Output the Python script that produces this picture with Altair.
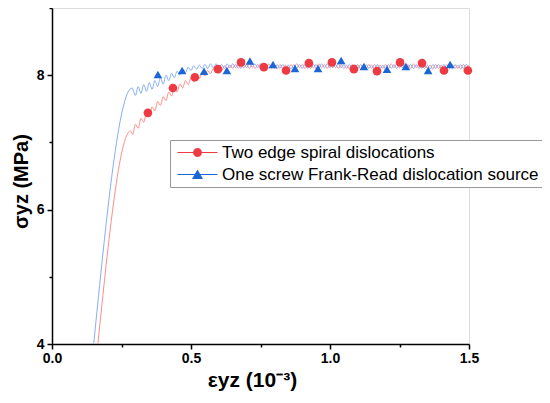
import altair as alt
import pandas as pd

S1 = "Two edge spiral dislocations"
S2 = "One screw Frank-Read dislocation source"

red_x = [0.165, 0.283, 0.29, 0.30, 0.31, 0.32, 0.33, 0.34, 0.35, 0.36, 0.37, 0.38, 0.39,
         0.40, 0.41, 0.42, 0.43, 0.44, 0.45, 0.46, 0.47, 0.48, 0.49, 0.50, 0.51, 0.52, 0.53,
         0.54, 0.55, 0.56, 0.57, 0.58, 0.59, 0.60, 0.61, 0.62, 0.63, 0.64, 0.65, 0.66, 0.67,
         0.68, 0.69, 0.70, 0.71, 0.72, 0.73, 0.74, 0.75, 0.76, 0.77, 0.78, 0.79, 0.80, 0.81,
         0.82, 0.83, 0.84, 0.85, 0.86, 0.87, 0.88, 0.89, 0.90, 0.91, 0.92, 0.93, 0.94, 0.95,
         0.96, 0.97, 0.98, 0.99, 1.00, 1.01, 1.02, 1.03, 1.04, 1.05, 1.06, 1.07, 1.08, 1.09,
         1.10, 1.11, 1.12, 1.13, 1.14, 1.15, 1.16, 1.17, 1.18, 1.19, 1.20, 1.21, 1.22, 1.23,
         1.24, 1.25, 1.26, 1.27, 1.28, 1.29, 1.30, 1.31, 1.32, 1.33, 1.34, 1.35, 1.36, 1.37,
         1.38, 1.39, 1.40, 1.41, 1.42, 1.43, 1.44, 1.45, 1.46, 1.47, 1.48, 1.49, 1.50]
red_y = [4.00, 7.17, 7.12, 7.27, 7.21, 7.36, 7.30, 7.45, 7.39, 7.53, 7.47, 7.61, 7.55,
         7.68, 7.62, 7.75, 7.69, 7.82, 7.75, 7.87, 7.81, 7.92, 7.86, 7.96, 7.90, 8.00, 7.95,
         8.04, 7.99, 8.07, 8.02, 8.10, 8.05, 8.12, 8.07, 8.14, 8.09, 8.15, 8.10, 8.16, 8.10,
         8.17, 8.11, 8.16, 8.10, 8.17, 8.10, 8.16, 8.11, 8.16, 8.10, 8.17, 8.10, 8.16, 8.09,
         8.16, 8.10, 8.15, 8.10, 8.16, 8.10, 8.17, 8.11, 8.16, 8.10, 8.17, 8.10, 8.16, 8.10,
         8.17, 8.11, 8.16, 8.10, 8.17, 8.11, 8.16, 8.10, 8.16, 8.10, 8.15, 8.09, 8.16, 8.10,
         8.16, 8.09, 8.15, 8.10, 8.16, 8.10, 8.16, 8.09, 8.15, 8.10, 8.16, 8.10, 8.17, 8.11,
         8.17, 8.11, 8.16, 8.10, 8.16, 8.10, 8.17, 8.11, 8.16, 8.10, 8.16, 8.10, 8.15, 8.09,
         8.16, 8.10, 8.15, 8.09, 8.16, 8.10, 8.16, 8.10, 8.15, 8.09, 8.16, 8.10, 8.15]

blue_x = [0.150, 0.288, 0.30, 0.31, 0.32, 0.33, 0.34, 0.35, 0.36, 0.37, 0.38, 0.39,
          0.40, 0.41, 0.42, 0.43, 0.44, 0.45, 0.46, 0.47, 0.48, 0.49, 0.50, 0.51, 0.52, 0.53,
          0.54, 0.55, 0.56, 0.57, 0.58, 0.59, 0.60, 0.61, 0.62, 0.63, 0.64, 0.65, 0.66, 0.67,
          0.68, 0.69, 0.70, 0.71, 0.72, 0.73, 0.74, 0.75, 0.76, 0.77, 0.78, 0.79, 0.80, 0.81,
          0.82, 0.83, 0.84, 0.85, 0.86, 0.87, 0.88, 0.89, 0.90, 0.91, 0.92, 0.93, 0.94, 0.95,
          0.96, 0.97, 0.98, 0.99, 1.00, 1.01, 1.02, 1.03, 1.04, 1.05, 1.06, 1.07, 1.08, 1.09,
          1.10, 1.11, 1.12, 1.13, 1.14, 1.15, 1.16, 1.17, 1.18, 1.19, 1.20, 1.21, 1.22, 1.23,
          1.24, 1.25, 1.26, 1.27, 1.28, 1.29, 1.30, 1.31, 1.32, 1.33, 1.34, 1.35, 1.36, 1.37,
          1.38, 1.39, 1.40, 1.41, 1.42, 1.43, 1.44, 1.45, 1.46, 1.47, 1.48, 1.49, 1.50]
blue_y = [4.00, 7.81, 7.70, 7.83, 7.73, 7.86, 7.76, 7.89, 7.79, 7.92, 7.83, 7.96,
          7.87, 8.00, 7.92, 8.03, 7.96, 8.06, 8.00, 8.09, 8.04, 8.12, 8.07, 8.14, 8.09, 8.15,
          8.10, 8.16, 8.10, 8.17, 8.11, 8.17, 8.11, 8.16, 8.10, 8.17, 8.11, 8.17, 8.11, 8.16,
          8.10, 8.17, 8.11, 8.18, 8.12, 8.17, 8.11, 8.17, 8.11, 8.16, 8.10, 8.16, 8.10, 8.16,
          8.10, 8.16, 8.10, 8.15, 8.09, 8.16, 8.10, 8.16, 8.10, 8.16, 8.10, 8.17, 8.11, 8.16,
          8.10, 8.17, 8.11, 8.17, 8.11, 8.17, 8.11, 8.17, 8.11, 8.16, 8.10, 8.16, 8.10, 8.16,
          8.10, 8.16, 8.10, 8.16, 8.10, 8.15, 8.09, 8.16, 8.10, 8.15, 8.09, 8.16, 8.10, 8.16,
          8.10, 8.17, 8.11, 8.17, 8.11, 8.16, 8.10, 8.16, 8.10, 8.16, 8.10, 8.15, 8.09, 8.16,
          8.10, 8.16, 8.10, 8.16, 8.10, 8.16, 8.10, 8.16, 8.10, 8.16, 8.10, 8.16, 8.10]

red_mx = [0.345, 0.435, 0.514, 0.597, 0.680, 0.762, 0.842, 0.924, 1.007, 1.086, 1.169,
          1.252, 1.331, 1.410, 1.496]
red_my = [7.44, 7.81, 7.97, 8.09, 8.19, 8.12, 8.07, 8.18, 8.19, 8.09, 8.06, 8.19, 8.18,
          8.07, 8.07]
blue_mx = [0.381, 0.468, 0.547, 0.629, 0.712, 0.795, 0.874, 0.957, 1.040, 1.122, 1.205,
           1.273, 1.353, 1.432]
blue_my = [8.01, 8.07, 8.06, 8.07, 8.21, 8.16, 8.10, 8.10, 8.22, 8.13, 8.09, 8.13, 8.07,
           8.16]

series = [S1, S2]
line_colors = ["#ff8c8c", "#86aef5"]
mark_colors = ["#ee3a43", "#1a66d6"]
x_ticks = [0, 0.25, 0.5, 0.75, 1.0, 1.25, 1.5]
y_ticks = [4, 5, 6, 7, 8, 9]

lines = pd.concat([
    pd.DataFrame({"x": red_x, "y": red_y, "s": S1}),
    pd.DataFrame({"x": blue_x, "y": blue_y, "s": S2}),
])
marks = pd.concat([
    pd.DataFrame({"x": red_mx, "y": red_my, "s": S1}),
    pd.DataFrame({"x": blue_mx, "y": blue_my, "s": S2}),
])

FONT = "Liberation Sans"
xenc = alt.X("x:Q", scale=alt.Scale(domain=[0, 1.5], nice=False),
             axis=alt.Axis(values=x_ticks, title="εyz (10⁻³)",
                           labelExpr="datum.value % 0.5 === 0 ? format(datum.value, '.1f') : ''",
                           tickSize={"condition": {"test": "datum.value % 0.5 === 0", "value": 5}, "value": 3},
                           grid=False, domainColor="black", domainWidth=1.5,
                           tickColor="black", tickWidth=1.5,
                           labelFont=FONT, labelFontSize=14, labelFontWeight="bold", labelColor="black",
                           labelPadding=2, labelFlush=False,
                           titleFont=FONT, titleFontSize=21, titleFontWeight="bold", titleColor="black",
                           titlePadding=4, titleX=200, titleAlign="center"))
yenc = alt.Y("y:Q", scale=alt.Scale(domain=[4, 9], nice=False, zero=False),
             axis=alt.Axis(values=y_ticks, title="σyz (MPa)",
                           labelExpr="datum.value % 2 === 0 ? format(datum.value, 'd') : ''",
                           tickSize={"condition": {"test": "datum.value % 2 === 0", "value": 5}, "value": 3},
                           grid=False, domainColor="black", domainWidth=1.5,
                           tickColor="black", tickWidth=1.5,
                           labelFont=FONT, labelFontSize=14, labelFontWeight="bold", labelColor="black",
                           labelPadding=3, labelFlush=False,
                           titleFont=FONT, titleFontSize=20, titleFontWeight="bold", titleColor="black",
                           titlePadding=5, titleY=173, titleAlign="center"))

# legend symbols (unit = half the symbol box): a thin bar plus the marker, drawn to the right
BAR = "M-1,-0.1L7,-0.1L7,0.1L-1,0.1Z"
CIRC = ("M3.9,0L3.78,0.45L3.45,0.78L3,0.9L2.55,0.78L2.22,0.45L2.1,0"
        "L2.22,-0.45L2.55,-0.78L3,-0.9L3.45,-0.78L3.78,-0.45Z")
TRI = "M3,-1L4.1,0.9L1.9,0.9Z"
LEG1 = BAR + CIRC
LEG2 = BAR + TRI

legend = alt.Legend(
    title=None, orient="none", legendX=118, legendY=132,
    labelFont=FONT, labelFontSize=17, labelColor="black", labelLimit=450,
    symbolSize=100, labelOffset=31, symbolStrokeWidth=0,
    padding=4, strokeColor="#999999", fillColor="white",
)

line_layer = alt.Chart(lines).mark_line(strokeWidth=1, interpolate="monotone", clip=True).encode(
    x=xenc, y=yenc,
    color=alt.Color("s:N", scale=alt.Scale(domain=series, range=line_colors), legend=None),
    detail="s:N",
)
point_layer = alt.Chart(marks).mark_point(filled=True, opacity=1, strokeWidth=0, size=75).encode(
    x=xenc, y=yenc,
    fill=alt.Fill("s:N", scale=alt.Scale(domain=series, range=mark_colors), legend=None),
    shape=alt.Shape("s:N", scale=alt.Scale(domain=series, range=["circle", "triangle-up"]), legend=None),
)
# helper layer only feeds the legend; its marks sit outside the clipped plot area
legend_layer = alt.Chart(pd.DataFrame({"k": series})).mark_point(
    filled=True, opacity=1, strokeWidth=0, clip=True).encode(
    x=alt.value(-200), y=alt.value(-200),
    shape=alt.Shape("k:N", scale=alt.Scale(domain=series, range=[LEG1, LEG2]), legend=legend),
    fill=alt.Fill("k:N", scale=alt.Scale(domain=series, range=mark_colors), legend=legend),
)

chart = alt.layer(line_layer, point_layer, legend_layer).resolve_scale(
    shape="independent", fill="independent"
).properties(
    width=417, height=336,
    autosize=alt.AutoSizeParams(type="none"),
    padding={"left": 44, "top": 0, "right": 73, "bottom": 51},
).configure_view(stroke=None).configure(background="white").configure_legend(rowPadding=4)

chart.save("out.html", embed_options={"renderer": "svg", "actions": False})
